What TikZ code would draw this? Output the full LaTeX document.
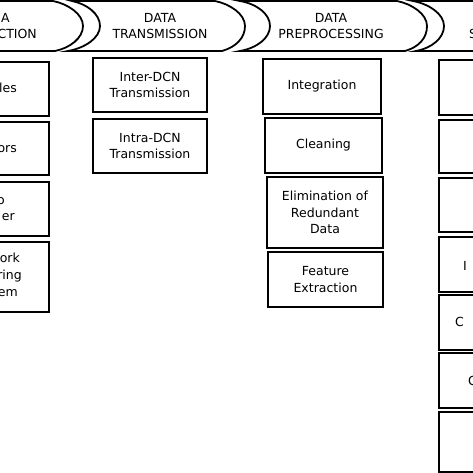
\documentclass[tikz,border=0pt]{standalone}
\usepackage{fontspec}
\setmainfont{DejaVu Sans}
\begin{document}
\begin{tikzpicture}[x=1pt,y=-1pt,
  chev/.style={draw=black,line width=1.8pt,fill=white},
  boxn/.style={draw=black,line width=1.8pt,fill=white,rectangle,inner sep=0pt,align=center,font=\fontsize{12.5}{16.5}\selectfont},
  lbl/.style={inner sep=0pt,align=center,font=\fontsize{12.5}{16}\selectfont},
  frag/.style={inner sep=0pt,font=\fontsize{12.5}{16.5}\selectfont}]
\useasboundingbox (0,0) rectangle (473,473);
\clip (0,0) rectangle (473,473);
\fill[white] (0,0) rectangle (473,473);

% chevrons
\draw[chev] (-20,1) -- (53,1) .. controls (68,4) and (83,14) .. (83,26)
  .. controls (83,38) and (70,48) .. (55,51) -- (-20,51);
\draw[chev] (72,1) -- (215,1) .. controls (230,4) and (245,14) .. (245,26)
  .. controls (245,38) and (236,47) .. (222,51) -- (68,51)
  .. controls (85,48) and (100,38) .. (100,26) .. controls (100,14) and (87,4) .. (72,1) -- cycle;
\draw[chev] (240,1) -- (397,1) .. controls (412,4) and (427,14) .. (427,26)
  .. controls (427,38) and (419,47) .. (405,51) -- (240,51)
  .. controls (257,48) and (270,38) .. (270,26) .. controls (270,14) and (257,4) .. (240,1) -- cycle;
\draw[chev] (520,1) -- (413,1) .. controls (429,4) and (444,14) .. (444,26)
  .. controls (444,38) and (432,48) .. (416,51) -- (520,51);

% chevron labels
\node[frag,anchor=base east] (h1a) at (10,23) {A};
\node[frag,anchor=base east] (h1b) at (37,38.5) {CTION};
\node[lbl] (h2) at (160,26.5) {DATA\\TRANSMISSION};
\node[lbl] (h3) at (331,26.5) {DATA\\PREPROCESSING};
\node[frag,anchor=base west] (h4) at (469,38.5) {S};

% column 1 (cut at left edge)
\node[boxn,minimum width=109pt,minimum height=54pt] (c1a) at (-5.5,89) {};
\node[boxn,minimum width=109pt,minimum height=53pt] (c1b) at (-5.5,148.5) {};
\node[boxn,minimum width=109pt,minimum height=54pt] (c1c) at (-5.5,209) {};
\node[boxn,minimum width=109pt,minimum height=70pt] (c1d) at (-5.5,277) {};
\node[frag,anchor=base east] (t1a) at (17,93) {les};
\node[frag,anchor=base east] (t1b) at (17,152.5) {ors};
\node[frag,anchor=base east] (t1c1) at (5,204) {o};
\node[frag,anchor=base east] (t1c2) at (15,220) {er};
\node[frag,anchor=base east] (t1d1) at (20,262.5) {ork};
\node[frag,anchor=base east] (t1d2) at (22,279) {ring};
\node[frag,anchor=base east] (t1d3) at (18,296) {em};

% column 2
\node[boxn,minimum width=114pt,minimum height=54pt] (c2a) at (150,85) {Inter-DCN\\Transmission};
\node[boxn,minimum width=114pt,minimum height=54pt] (c2b) at (150,146) {Intra-DCN\\Transmission};

% column 3
\node[boxn,minimum width=118pt,minimum height=55pt] (c3a) at (322,86.5) {Integration};
\node[boxn,minimum width=117pt,minimum height=55pt] (c3b) at (323.5,145.5) {Cleaning};
\node[boxn,minimum width=116pt,minimum height=71pt] (c3c) at (325,212.5) {Elimination of\\Redundant\\Data};
\node[boxn,minimum width=115pt,minimum height=55pt] (c3d) at (325.5,279.5) {Feature\\Extraction};

% column 4 (cut at right edge)
\node[boxn,minimum width=121pt,minimum height=55pt] (c4a) at (499.5,87.5) {};
\node[boxn,minimum width=121pt,minimum height=53pt] (c4b) at (499.5,146.5) {};
\node[boxn,minimum width=121pt,minimum height=54pt] (c4c) at (499.5,205) {};
\node[boxn,minimum width=121pt,minimum height=55pt] (c4d) at (499.5,264.5) {};
\node[boxn,minimum width=121pt,minimum height=55pt] (c4e) at (499.5,322.5) {};
\node[boxn,minimum width=121pt,minimum height=55pt] (c4f) at (499.5,380.5) {};
\node[boxn,minimum width=121pt,minimum height=60pt] (c4g) at (499.5,442) {};
\node[frag,anchor=base west] (t4d) at (463,270) {I};
\node[frag,anchor=base west] (t4e) at (455,326) {C};
\node[frag,anchor=base west] (t4f) at (468,385) {C};
\end{tikzpicture}
\end{document}
